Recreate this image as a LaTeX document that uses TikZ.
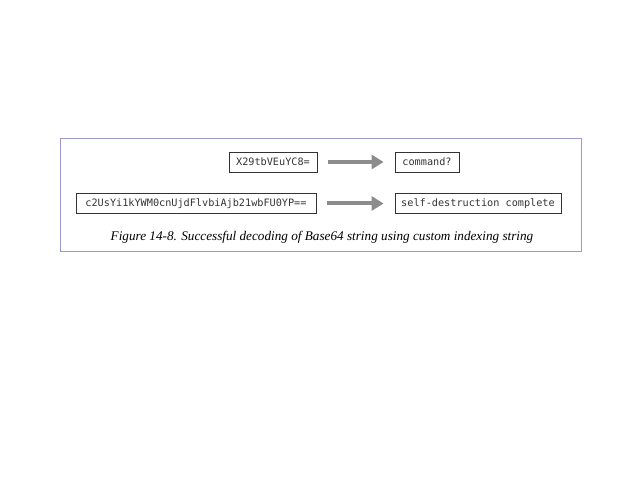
\documentclass[tikz,border=0pt]{standalone}
\usepackage{fontspec}
\setmainfont{Liberation Serif}
\setmonofont{DejaVu Sans Mono}
\usetikzlibrary{arrows.meta}
\begin{document}
\begin{tikzpicture}[x=1pt,y=-1pt,
  code/.style={draw=black!80,line width=0.8pt,inner sep=0pt,minimum height=20pt,font=\ttfamily\fontsize{10.2}{12}\selectfont,text=black!80},
  arr/.style={draw=black!45,line width=4pt,-{Triangle[length=12pt,width=14pt]},shorten <=11pt,shorten >=11pt}]
\useasboundingbox (0,0) rectangle (638,478);
\draw[draw=blue!35!gray!60,line width=0.8pt] (60,138) rectangle (581,251);
\node[code,minimum width=88pt] (a) at (273,162) {X29tbVEuYC8=};
\node[code,minimum width=64pt] (b) at (427,162) {command?};
\node[code,minimum width=240pt] (c) at (196,203.5) {c2UsYi1kYWM0cnUjdFlvbiAjb21wbFU0YP==};
\node[code,minimum width=166pt] (d) at (478,203.5) {self-destruction complete};
\draw[arr] (a) -- (b);
\draw[arr] (c) -- (d);
\node[font=\itshape\fontsize{13.2}{15}\selectfont] (cap) at (322,237) {Figure 14-8. Successful decoding of Base64 string using custom indexing string};
\end{tikzpicture}
\end{document}
